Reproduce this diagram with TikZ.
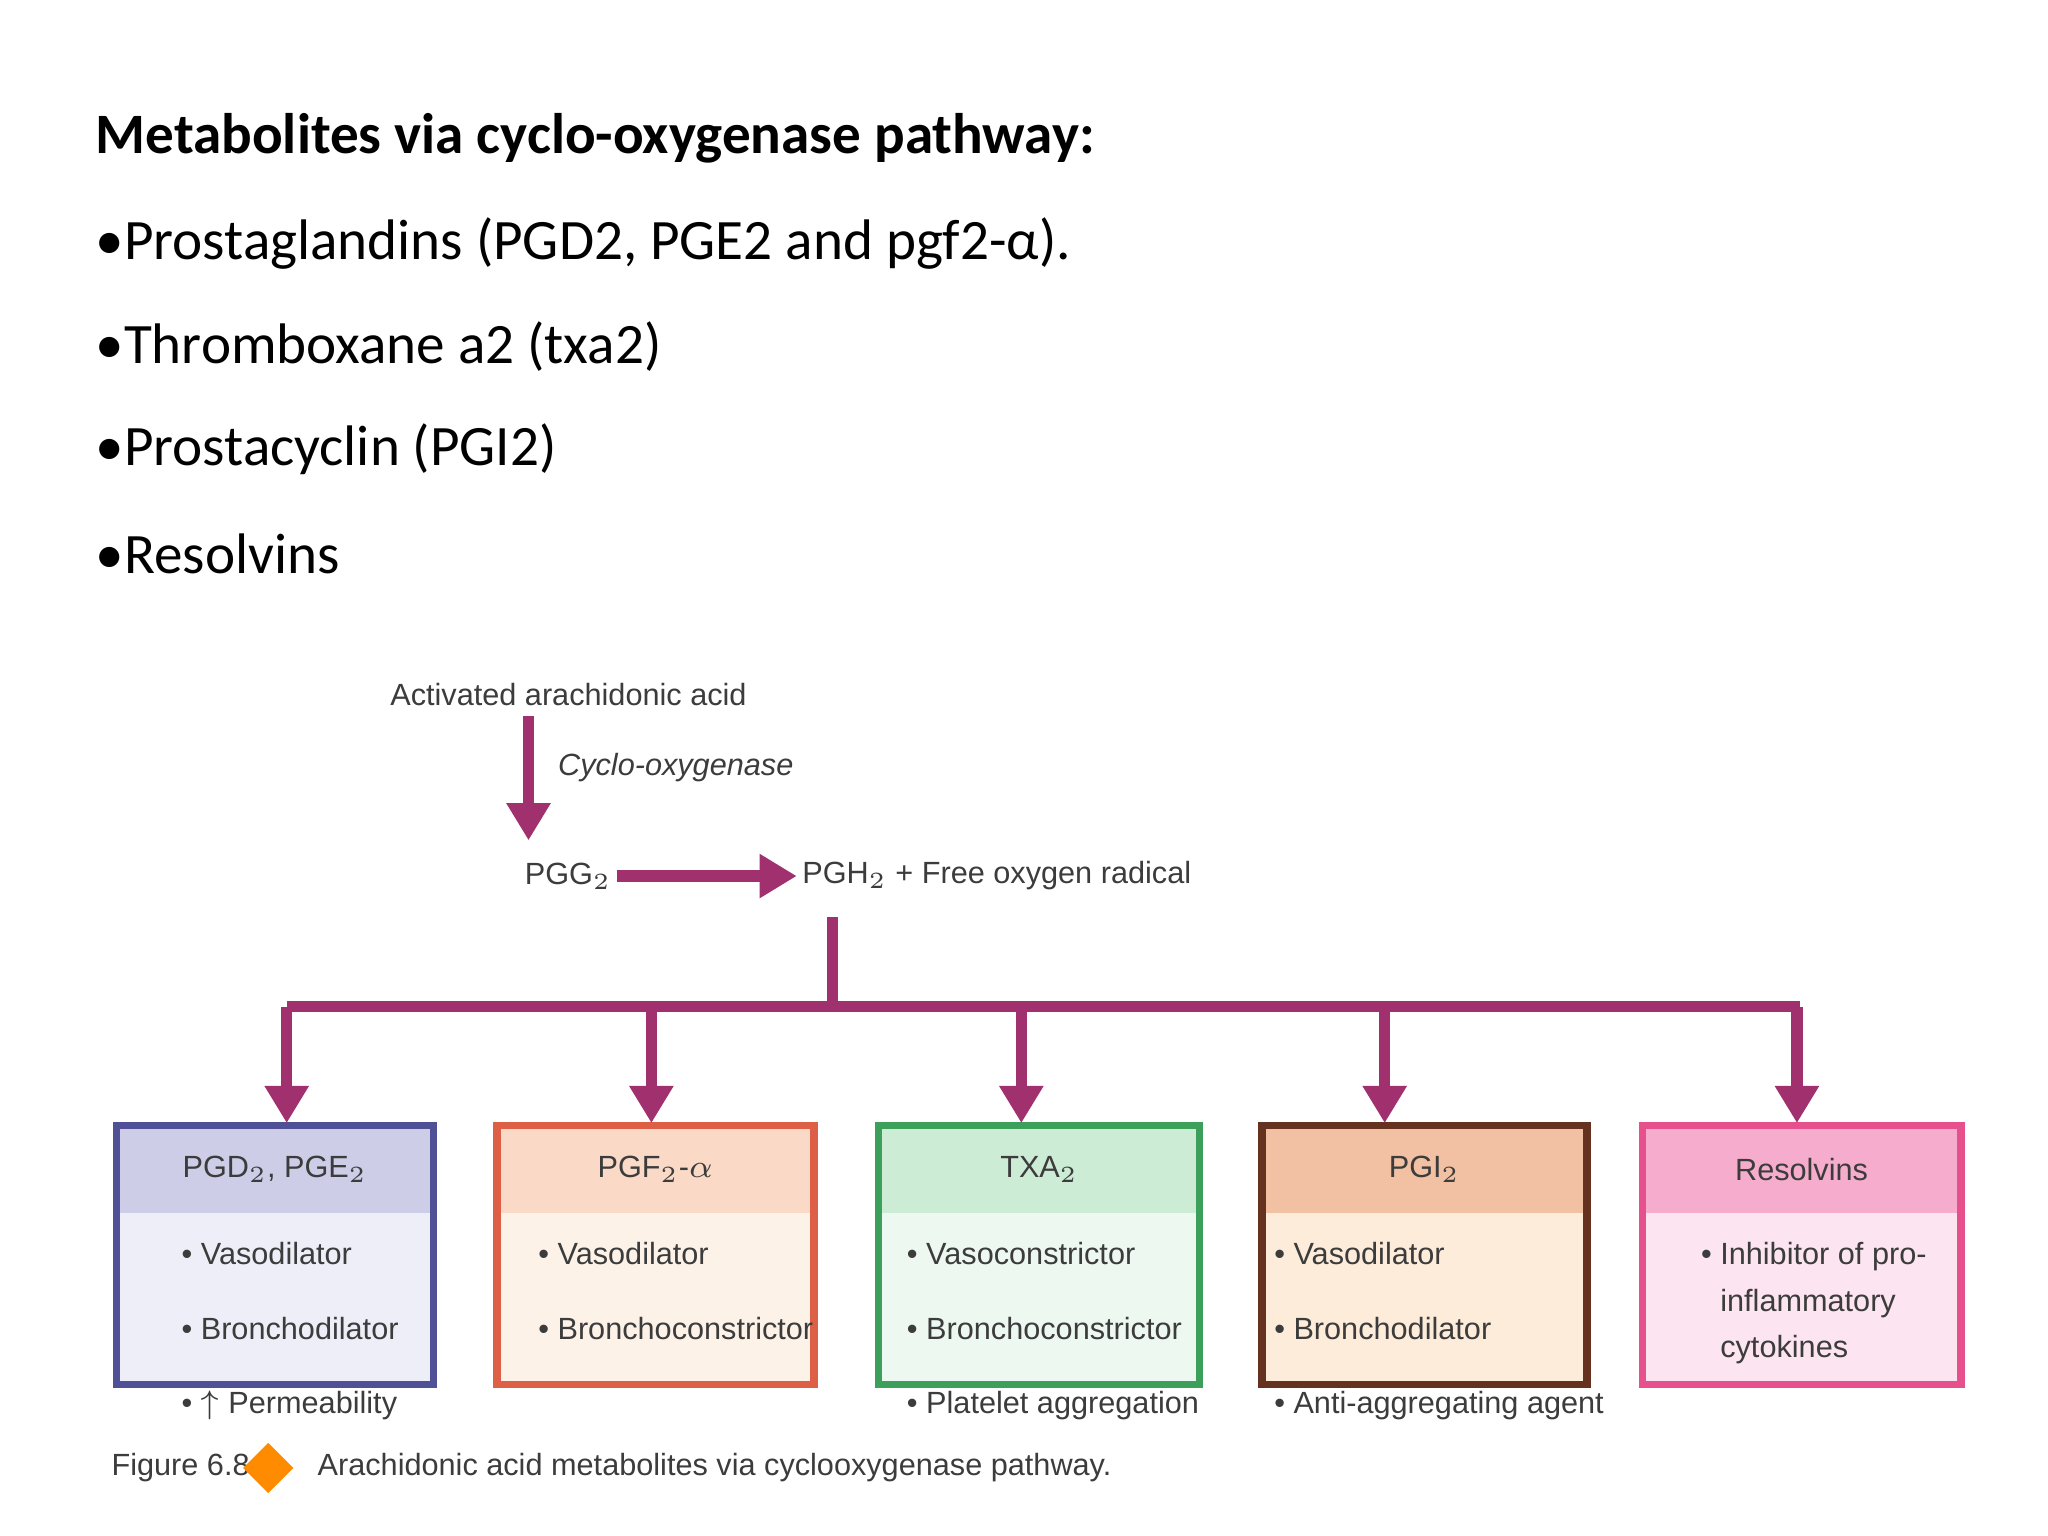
\documentclass[tikz,border=0pt]{standalone}
\usepackage{fontspec}
\setmainfont{Carlito}
\newfontfamily\diag{Liberation Sans}
\usetikzlibrary{arrows.meta,shapes.geometric}
\definecolor{flow}{RGB}{160,48,110}
\definecolor{bA}{RGB}{80,80,150}\definecolor{hA}{RGB}{205,205,232}\definecolor{fA}{RGB}{238,238,248}
\definecolor{bB}{RGB}{220,95,70}\definecolor{hB}{RGB}{250,218,198}\definecolor{fB}{RGB}{253,242,232}
\definecolor{bC}{RGB}{60,160,90}\definecolor{hC}{RGB}{205,236,214}\definecolor{fC}{RGB}{236,248,240}
\definecolor{bD}{RGB}{100,50,30}\definecolor{hD}{RGB}{242,192,162}\definecolor{fD}{RGB}{253,236,218}
\definecolor{bE}{RGB}{230,80,140}\definecolor{hE}{RGB}{246,172,204}\definecolor{fE}{RGB}{252,228,240}
\definecolor{txt}{RGB}{60,60,60}
\tikzset{
  bullet/.style={anchor=west,font=\fontsize{12.3}{15}\selectfont},
  dtext/.style={font=\diag\fontsize{6.6}{8}\selectfont,text=txt},
  flowline/.style={draw=flow,line width=2.4pt},
  flowarrow/.style={flowline,-{Triangle[length=8pt,width=9pt]}},
  body/.style={dtext,align=left,anchor=north west},
}
\begin{document}
\begin{tikzpicture}[x=0.01cm,y=-0.01cm]
\useasboundingbox[fill=white] (0,0) rectangle (1550,1162);
\node[bullet,font=\bfseries\fontsize{12.3}{15}\selectfont] (t0) at (60,105) {Metabolites via cyclo-oxygenase pathway:};
\node[bullet] (t1) at (60,184) {•Prostaglandins (PGD2, PGE2 and pgf2-α).};
\node[bullet] (t2) at (60,262) {•Thromboxane a2 (txa2)};
\node[bullet] (t3) at (60,340) {•Prostacyclin (PGI2)};
\node[bullet] (t4) at (60,419) {•Resolvins};

\node[dtext,anchor=west] (aa) at (283,526) {Activated arachidonic acid};
\node[dtext,anchor=west,font=\diag\itshape\fontsize{6.6}{8}\selectfont] (cox) at (410,581) {Cyclo-oxygenase};
\node[dtext,anchor=west,inner sep=1pt] (pgg) at (393,663) {PGG$_2$};
\node[dtext,anchor=west,inner sep=1pt] (pgh) at (603,663) {PGH$_2$ + Free oxygen radical};
\coordinate (s1) at (400,542);
\draw[flowarrow] (s1) -- (400,636);
\draw[flowarrow] (pgg.east) -- (pgh.west);
\coordinate (j) at (630,762);
\draw[flowline] (630,694) -- (j);
\draw[flowline] (217,762) -- (1362,762);

\foreach \n/\x/\w/\h in {
  A/88/240/{PGD$_2$, PGE$_2$},
  B/376/240/{PGF$_2$-$\alpha$},
  C/665/243/{TXA$_2$},
  D/955/246/{PGI$_2$},
  E/1243/241/{Resolvins}} {
  \fill[f\n] (\x,852) rectangle ++(\w,196);
  \fill[h\n] (\x,852) rectangle ++(\w,66);
  \draw[b\n,line width=1.6pt] (\x,852) rectangle ++(\w,196);
  \node[dtext] (h\n) at (\x+\w/2,885) {\h};
}
\node[body] (bdA) at (125,928) {\textbullet\ Vasodilator\\[8pt]\textbullet\ Bronchodilator\\[8pt]\textbullet\ $\uparrow$ Permeability};
\node[body] (bdB) at (395,928) {\textbullet\ Vasodilator\\[8pt]\textbullet\ Bronchoconstrictor};
\node[body] (bdC) at (674,928) {\textbullet\ Vasoconstrictor\\[8pt]\textbullet\ Bronchoconstrictor\\[8pt]\textbullet\ Platelet aggregation};
\node[body] (bdD) at (952,928) {\textbullet\ Vasodilator\\[8pt]\textbullet\ Bronchodilator\\[8pt]\textbullet\ Anti-aggregating agent};
\node[body] (bdE) at (1275,928) {\textbullet\ Inhibitor of pro-\\[2pt]\phantom{\textbullet\ }inflammatory\\[2pt]\phantom{\textbullet\ }cytokines};
\foreach \x/\n in {217/A,493/B,773/C,1048/D,1360/E} {
  \coordinate (top\n) at (\x,850);
  \draw[flowarrow] (\x,762) -- (top\n);
}

\node[dtext,anchor=west] (fig) at (72,1111) {Figure 6.8};
\node[diamond,fill=orange!90!yellow,minimum size=11pt,inner sep=0pt] (dia) at (203,1111) {};
\node[dtext,anchor=west] (cap) at (228,1111) {Arachidonic acid metabolites via cyclooxygenase pathway.};
\end{tikzpicture}
\end{document}
